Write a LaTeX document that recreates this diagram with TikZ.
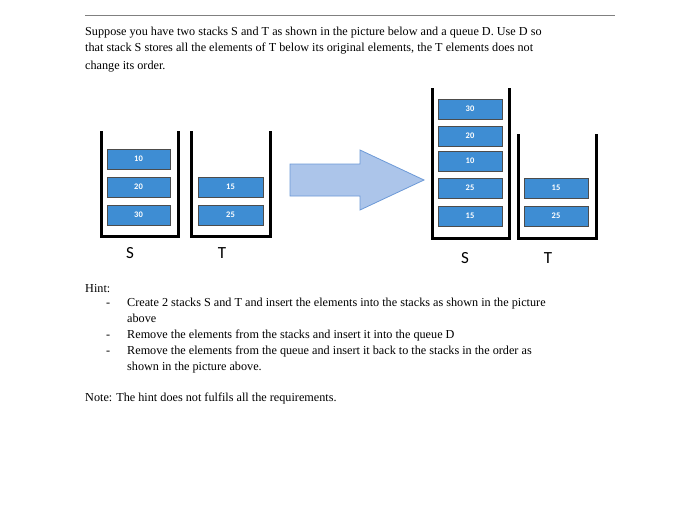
\documentclass[tikz,border=0pt]{standalone}
\usepackage{fontspec}
\setmainfont{Liberation Serif}
\newfontfamily\sansf{Carlito}
\begin{document}
\begin{tikzpicture}[x=1pt,y=-1pt,
  txt/.style={anchor=base west,inner sep=0,font=\fontsize{12.2}{14}\selectfont},
  wall/.style={line width=3pt},
  box/.style={draw=black!70,fill=cyan!60!blue!80!white,line width=0.6pt},
  bt/.style={text=white,font=\sansf\bfseries\fontsize{8.5}{9}\selectfont,inner sep=0},
  lab/.style={font=\sansf\fontsize{17}{18}\selectfont,inner sep=0}]
\useasboundingbox (0,0) rectangle (700,511);
\fill[white] (0,0) rectangle (700,511);
\draw[gray,line width=0.6pt] (85,15) -- (615,15);
\node[txt] (l1) at (85,35) {Suppose you have two stacks S and T as shown in the picture below and a queue D. Use D so};
\node[txt] (l2) at (85,52) {that stack S stores all the elements of T below its original elements, the T elements does not};
\node[txt] (l3) at (85,69) {change its order.};
% left stacks
\draw[wall] (101,131) -- (101,236) -- (178,236) -- (178,131);
\draw[wall] (191,131) -- (191,236) -- (270,236) -- (270,131);
\foreach \y/\v in {149/10,177/20,205/30}{\draw[box] (107,\y) rectangle (170,\y+20); \node[bt] at (138.5,\y+10) {\v};}
\foreach \y/\v in {177/15,205/25}{\draw[box] (198,\y) rectangle (263,\y+20); \node[bt] at (230.5,\y+10) {\v};}
\node[lab] (s1) at (130,253) {S};
\node[lab] (t1) at (222,253) {T};
% arrow
\draw[draw=cyan!50!blue!60!white,fill=cyan!35!blue!25!white!90!cyan,line width=0.8pt]
  (290,164) -- (360,164) -- (360,150) -- (424,180) -- (360,210) -- (360,196) -- (290,196) -- cycle;
% right stacks
\draw[wall] (432,88) -- (432,238) -- (509,238) -- (509,88);
\draw[wall] (518,134) -- (518,238) -- (596,238) -- (596,134);
\foreach \y/\v in {99/30,126/20,151/10,178/25,206/15}{\draw[box] (438,\y) rectangle (502,\y+20); \node[bt] at (470,\y+10) {\v};}
\foreach \y/\v in {178/15,206/25}{\draw[box] (524,\y) rectangle (588,\y+20); \node[bt] at (556,\y+10) {\v};}
\node[lab] (s2) at (465,258) {S};
\node[lab] (t2) at (548,258) {T};
% hints
\node[txt] (h) at (85,292) {Hint:};
\foreach \y in {306,338,354}{\node[txt] at (106,\y) {-};}
\node[txt] at (127,306) {Create 2 stacks S and T and insert the elements into the stacks as shown in the picture};
\node[txt] at (127,322) {above};
\node[txt] at (127,338) {Remove the elements from the stacks and insert it into the queue D};
\node[txt] at (127,354) {Remove the elements from the queue and insert it back to the stacks in the order as};
\node[txt] at (127,370) {shown in the picture above.};
\node[txt] (note) at (85,401) {Note: The hint does not fulfils all the requirements.};
\end{tikzpicture}
\end{document}
